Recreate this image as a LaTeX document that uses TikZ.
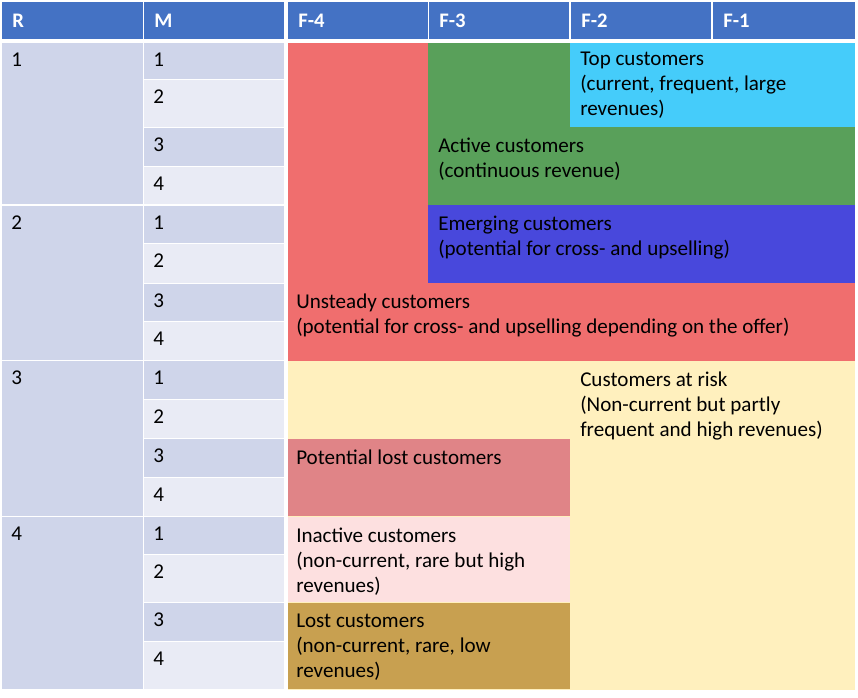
\documentclass[tikz,border=0pt]{standalone}
\usepackage{fontspec}
\setmainfont{Carlito}
\definecolor{hdr}{HTML}{4472C4}
\definecolor{cdark}{HTML}{CFD5EA}
\definecolor{clight}{HTML}{E9EBF5}
\definecolor{cred}{HTML}{F06E6E}
\definecolor{cgreen}{HTML}{59A05A}
\definecolor{ccyan}{HTML}{45CCFA}
\definecolor{cblue}{HTML}{4848DC}
\definecolor{cyellow}{HTML}{FFF0BE}
\definecolor{cpred}{HTML}{E08487}
\definecolor{cpink}{HTML}{FDE0E0}
\definecolor{cbrown}{HTML}{C8A050}
\begin{document}
\begin{tikzpicture}[x=0.75pt,y=-0.75pt,
  lbl/.style={anchor=north west,inner sep=0pt,align=left,font=\fontsize{15.8}{18.75}\selectfont},
  hlbl/.style={anchor=west,inner sep=0pt,text=white,font=\fontsize{15.5}{17}\selectfont\bfseries}]
\useasboundingbox[fill=white] (0,0) rectangle (858,698);
% header
\foreach \a/\b/\t [count=\i] in {2/143/R,144/284/M,288/428/F-4,429/569/F-3,571/711/F-2,713/855/F-1}{
  \fill[hdr] (\a,2) rectangle (\b,39);
  \node[hlbl] (h\i) at (\a+10,21) {\t};
}
% R groups
\foreach \a/\b/\t [count=\i] in {43/204/1,206/360/2,361/516/3,517/689/4}{
  \fill[cdark] (2,\a) rectangle (143,\b);
  \node[lbl] (r\i) at (11,\a+10) {\t};
}
% M rows
\foreach \a/\b/\t/\c [count=\i] in {43/79/1/cdark,80/127/2/clight,128/166/3/cdark,167/204/4/clight,
  206/243/1/cdark,244/283/2/clight,284/321/3/cdark,322/360/4/clight,
  361/399/1/cdark,400/438/2/clight,439/477/3/cdark,478/516/4/clight,
  517/554/1/cdark,555/602/2/clight,603/641/3/cdark,642/689/4/clight}{
  \fill[\c] (144,\a) rectangle (284,\b);
  \node[lbl] (m\i) at (153,\a+10) {\t};
}
% segments
\fill[cred] (288,43) rectangle (855,361);
\fill[cgreen] (428,43) rectangle (855,205);
\fill[ccyan] (570,43) rectangle (855,127);
\fill[cblue] (428,205) rectangle (855,283);
\fill[cyellow] (288,361) rectangle (855,690);
\fill[cpred] (288,439) rectangle (570,516);
\fill[cpink] (288,517) rectangle (570,602);
\fill[cbrown] (288,603) rectangle (570,689);
\node[lbl] (top) at (580,52) {Top customers\\(current, frequent, large\\revenues)};
\node[lbl] (act) at (438,138) {Active customers\\(continuous revenue)};
\node[lbl] (emg) at (438,216) {Emerging customers\\(potential for cross- and upselling)};
\node[lbl] (uns) at (296,294) {Unsteady customers\\(potential for cross- and upselling depending on the offer)};
\node[lbl] (risk) at (580,372) {Customers at risk\\(Non-current but partly\\frequent and high revenues)};
\node[lbl] (pot) at (296,450) {Potential lost customers};
\node[lbl] (ina) at (296,528) {Inactive customers\\(non-current, rare but high\\revenues)};
\node[lbl] (lost) at (296,614) {Lost customers\\(non-current, rare, low\\revenues)};
\end{tikzpicture}
\end{document}
